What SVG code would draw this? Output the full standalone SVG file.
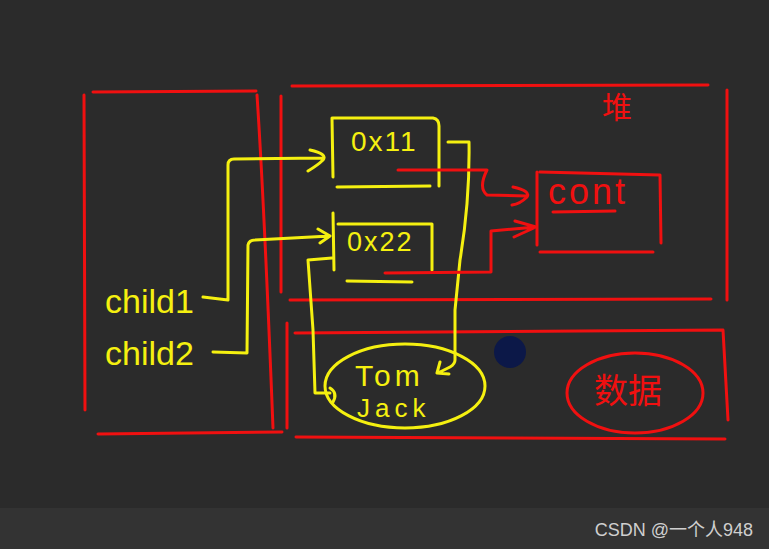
<svg xmlns="http://www.w3.org/2000/svg" width="769" height="549" viewBox="0 0 769 549">
<style>
.r{fill:none;stroke:#f01010;stroke-width:3;stroke-linecap:round;stroke-linejoin:round}
.y{fill:none;stroke:#f5f010;stroke-width:3;stroke-linecap:round;stroke-linejoin:round}
.ty{fill:#f5f010;font-family:"Liberation Sans","DejaVu Sans",sans-serif}
.tr{fill:#f01010;font-family:"Liberation Sans","Noto Sans CJK SC",sans-serif}
</style>
<rect x="0" y="0" width="769" height="508" fill="#2b2b2b"/>
<rect x="0" y="508" width="769" height="41" fill="#333333"/>

<g id="stack-region">
<path class="r" d="M84 95 L85 410 M93 92 L256 91 M257 95 Q264 200 273 428 M98 434 L282 432"/>
</g>
<g id="heap-region">
<path class="r" d="M281 96 L281 292 M292 86 L708 85 M727 90 L727 300 M290 300 L711 299"/>
<text class="tr" x="617" y="118" font-size="30" text-anchor="middle">堆</text>
</g>
<g id="data-region">
<path class="r" d="M287 323 L287 428 M295 333 L723 330 L728 420 M296 437 L725 439"/>
</g>

<g id="box-0x11">
<path class="y" d="M332 118 L333 177 M333 118 L433 118 Q439 119 439 126 L439 186 M337 187 L430 186"/>
<text class="ty" x="351" y="151" font-size="28" letter-spacing="2">0x11</text>
</g>
<g id="box-0x22">
<path class="y" d="M333 213 L334 270 M338 224 L432 224 L432 270 M347 281 L412 282"/>
<text class="ty" x="347" y="251" font-size="27" letter-spacing="2">0x22</text>
</g>
<g id="cont">
<path class="r" d="M537 172 L537 245 M540 172 L660 175 L661 243 M540 252 L653 252 M553 212 L615 211"/>
<text class="tr" x="548" y="204" font-size="36" letter-spacing="3">cont</text>
</g>
<g id="strings">
<ellipse cx="405" cy="386" rx="80" ry="42" class="y"/>
<text class="ty" x="355" y="386" font-size="30" letter-spacing="4">Tom</text>
<text class="ty" x="357" y="417" font-size="26" letter-spacing="5">Jack</text>
</g>
<g id="data-label">
<ellipse cx="635" cy="393" rx="68" ry="40" class="r"/>
<text class="tr" x="628" y="403" font-size="34" text-anchor="middle">数据</text>
</g>
<g id="child1">
<text class="ty" x="105" y="313" font-size="34">child1</text>
</g>
<g id="child2">
<text class="ty" x="105" y="365" font-size="34">child2</text>
</g>
<circle cx="510" cy="352" r="16" fill="#0c1848"/>

<g id="connectors">
<path class="y" d="M203 297 L228 300 L228 165 Q228 159 234 159 L323 158 M310 150 Q328 154 323 160 Q318 165 308 171"/>
<path class="y" d="M213 352 L247 353 L248 245 Q249 240 255 240 L330 236 M318 229 L330 236 L320 243"/>
<path class="y" d="M332 258 L308 260 L313 330 L315 393 L330 393 M330 388 Q338 393 333 402"/>
<path class="y" d="M448 142 L469 142 Q470 200 460 260 L455 310 L455 360 Q455 364 450 367 L438 373 M440 362 L437 373 L449 374"/>
<path class="r" d="M398 170 L487 170 Q478 188 487 195 L527 196 M513 187 Q531 191 527 197 Q520 204 512 205"/>
<path class="r" d="M385 273 L491 272 L491 231 L536 227 M515 221 L536 227 L514 237"/>
</g>

<text x="753" y="536" font-size="18" fill="#cfcfcf" text-anchor="end" font-family="'Liberation Sans','Noto Sans CJK SC',sans-serif">CSDN @一个人948</text>
</svg>
